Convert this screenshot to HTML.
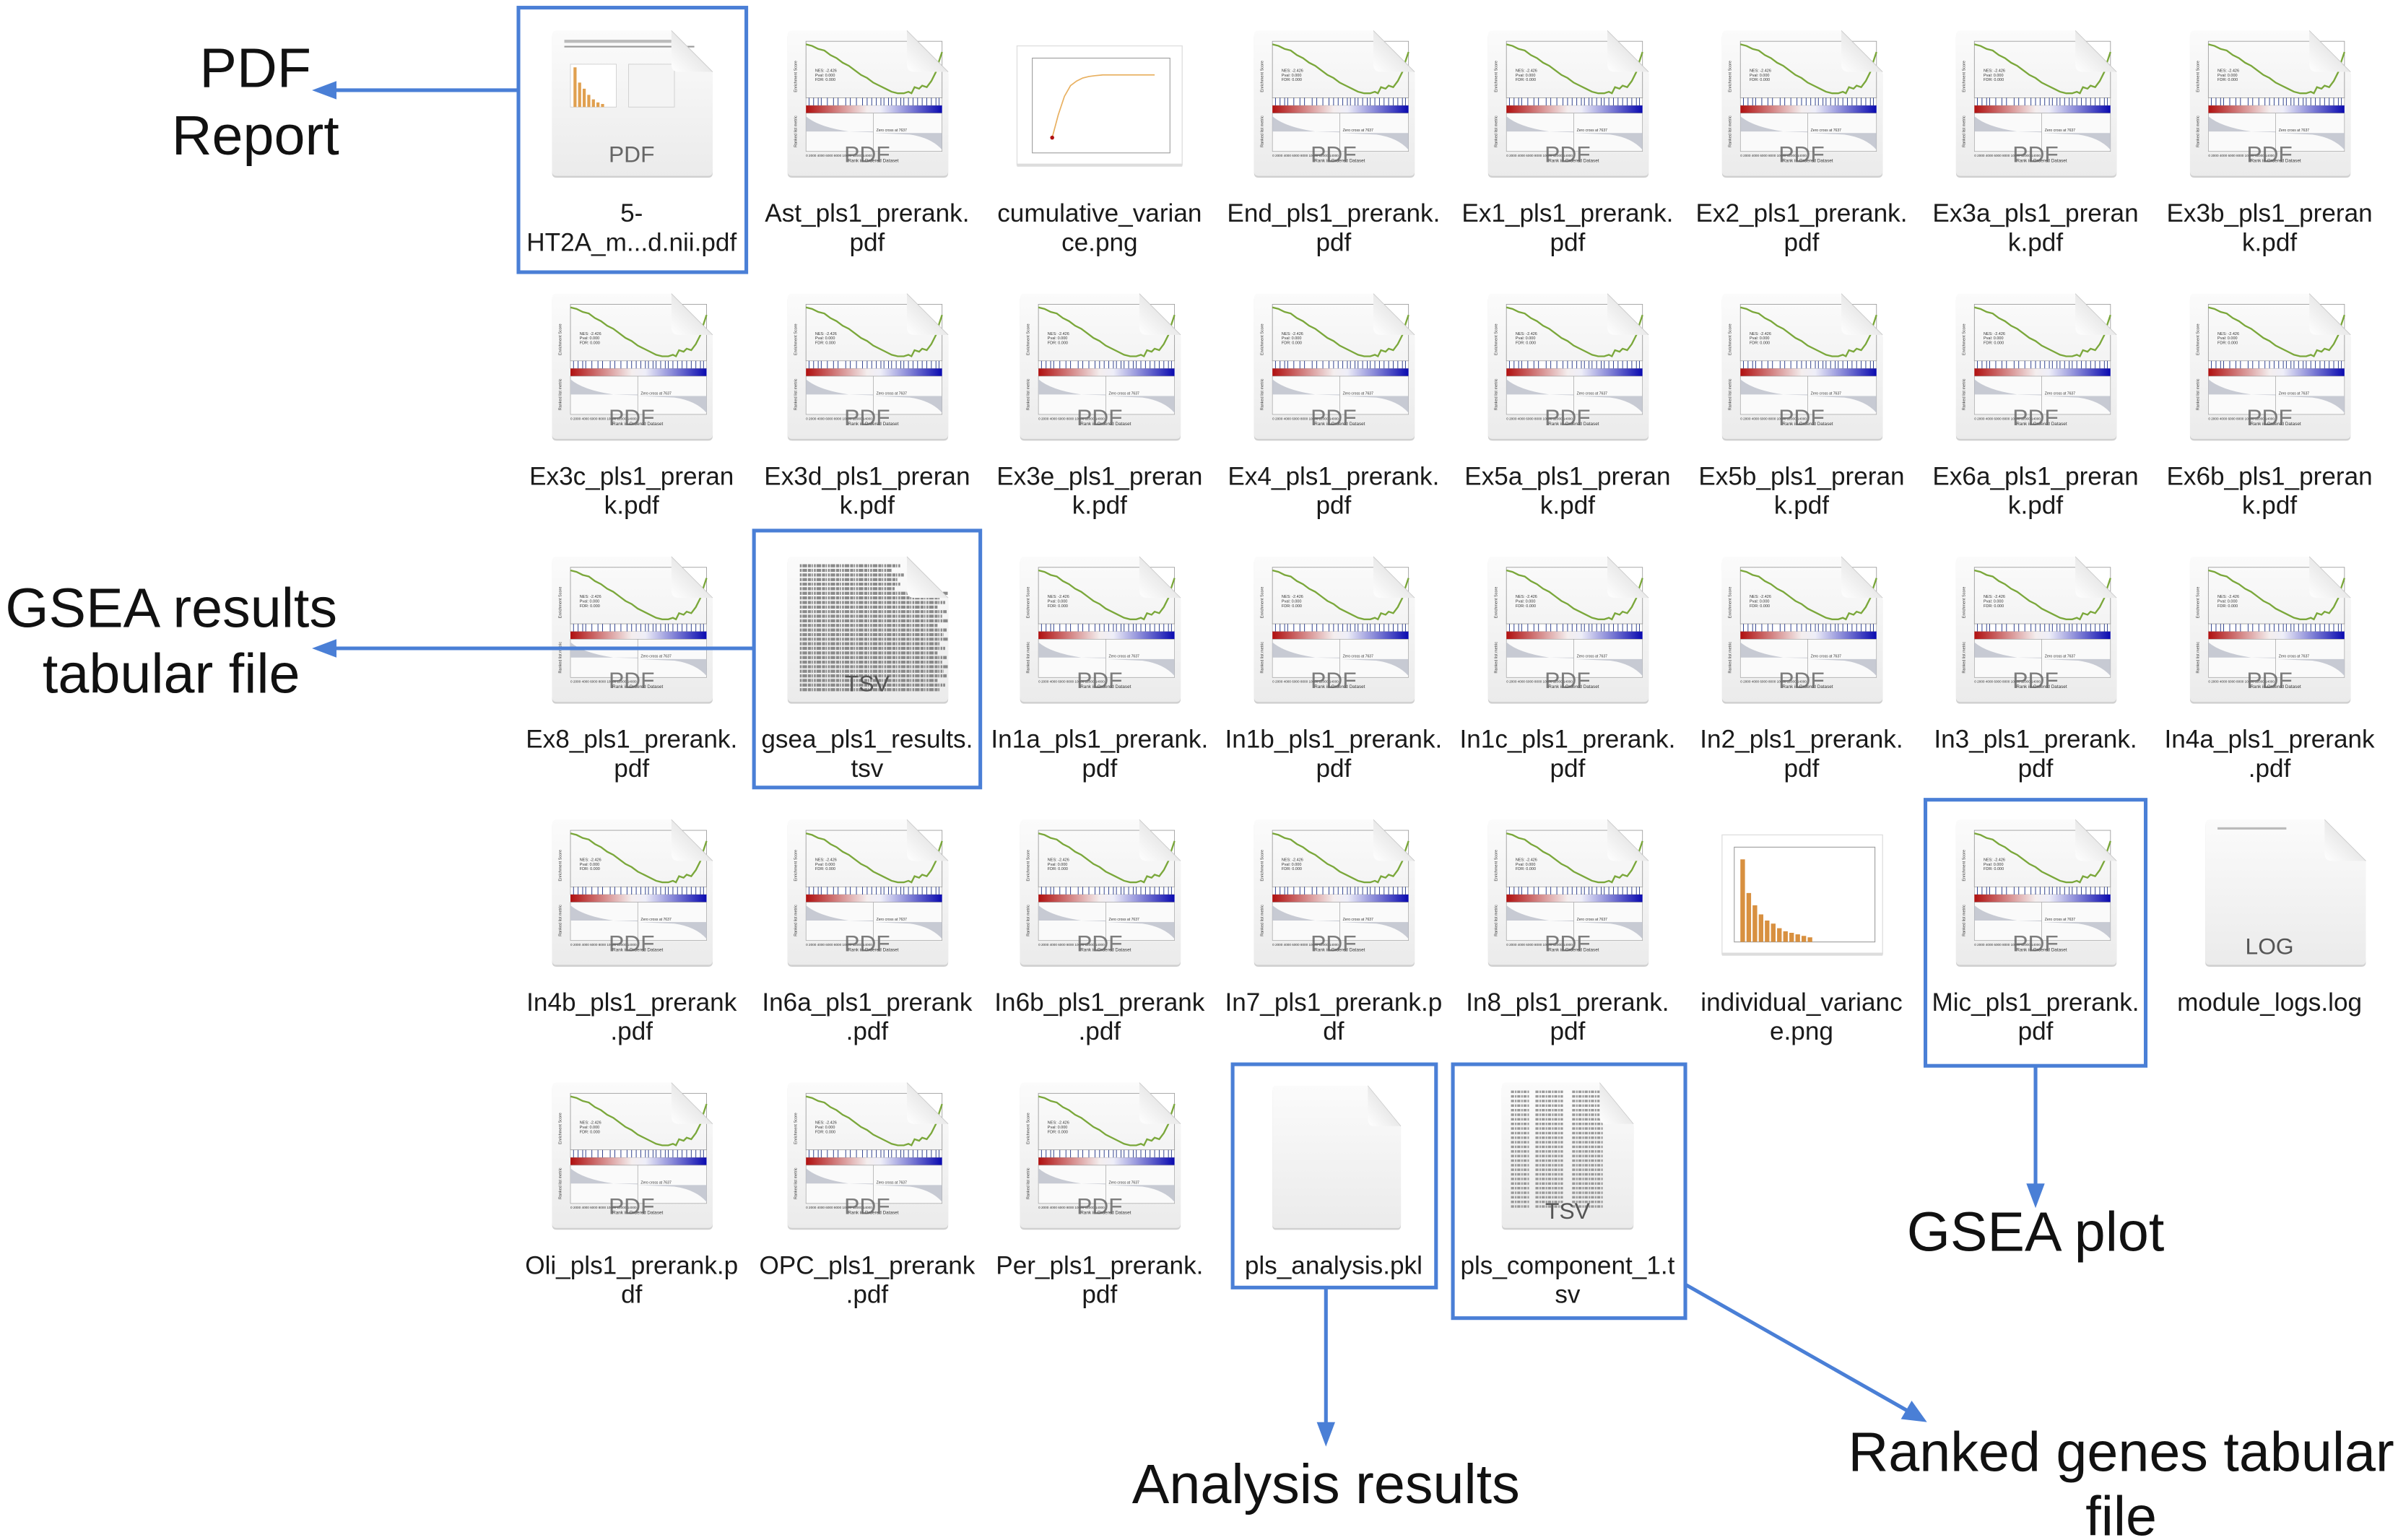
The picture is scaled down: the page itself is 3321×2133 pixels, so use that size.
<!DOCTYPE html>
<html><head><meta charset="utf-8"><style>html,body{margin:0;padding:0;background:#fff}svg{display:block}</style></head>
<body>
<svg xmlns="http://www.w3.org/2000/svg" xmlns:xlink="http://www.w3.org/1999/xlink" width="3321" height="2133" viewBox="0 0 1568 1007.1">
<defs>
<linearGradient id="pg" x1="0" y1="0" x2="0" y2="1"><stop offset="0" stop-color="#fbfbfb"/><stop offset="1" stop-color="#ebebeb"/></linearGradient>
<linearGradient id="fd" x1="0" y1="1" x2="1" y2="0"><stop offset="0" stop-color="#ffffff"/><stop offset="1" stop-color="#d4d4d4"/></linearGradient>
<linearGradient id="rb" x1="0" y1="0" x2="1" y2="0"><stop offset="0" stop-color="#b01010"/><stop offset="0.45" stop-color="#f4eeee"/><stop offset="0.55" stop-color="#eeeef8"/><stop offset="1" stop-color="#0a0ab0"/></linearGradient>
<path id="pagep" d="M3,0 H78 L105,27 V92 Q105,95 102,95 H3 Q0,95 0,92 V3 Q0,0 3,0 Z"/>
<g id="pagebase">
<use href="#pagep" fill="#d0d0d0" transform="translate(0,1.2)"/>
<use href="#pagep" fill="url(#pg)"/>
</g>
<g id="fold">
<path d="M78,0 L105,27 H83 Q78,27 78,22 Z" fill="url(#fd)"/>
<path d="M78,0 L105,27" stroke="#c8c8c8" stroke-width="0.4"/>
</g>
<g id="gseabody">
<rect x="12" y="7" width="89" height="37" fill="none" stroke="#999" stroke-width="0.4"/>
<polyline points="12,9 16,10 20,12 24,13 28,16 32,18 36,21 40,23 44,26 48,29 52,31 56,34 60,36 64,38 68,40 72,41 76,41 79,40 81,41 83,37 86,38 88,36 91,37 94,33 97,27 99,20 101,14" fill="none" stroke="#7aa73a" stroke-width="1.1"/>
<text x="18" y="27" font-size="2.6" font-family="Liberation Sans,sans-serif" fill="#333">NES: -2.426</text>
<text x="18" y="30" font-size="2.6" font-family="Liberation Sans,sans-serif" fill="#333">Pval: 0.000</text>
<text x="18" y="33" font-size="2.6" font-family="Liberation Sans,sans-serif" fill="#333">FDR: 0.000</text>
<rect x="12" y="44" width="89" height="5" fill="#fff" stroke="#999" stroke-width="0.3"/>
<path d="M14,44v5M17,44v5M20,44v5M22,44v5M26,44v5M30,44v5M33,44v5M38,44v5M41,44v5M45,44v5M49,44v5M52,44v5M55,44v5M58,44v5M61,44v5M63,44v5M66,44v5M68,44v5M71,44v5M74,44v5M76,44v5M79,44v5M82,44v5M85,44v5M88,44v5M91,44v5M94,44v5M97,44v5M99,44v5" stroke="#2a3c8a" stroke-width="0.45"/>
<rect x="12" y="49" width="89" height="5" fill="url(#rb)"/>
<rect x="12" y="54" width="89" height="25" fill="#fafafa" stroke="#999" stroke-width="0.3"/>
<path d="M12,56 Q20,63 40,66 L56,66.5 L56,66 L12,66 Z" fill="#c7cad3"/>
<path d="M56,67 L80,68 Q94,70 101,78 L101,67 Z" fill="#c7cad3"/>
<line x1="56" y1="54" x2="56" y2="79" stroke="#999" stroke-width="0.3"/>
<text x="58" y="66" font-size="2.4" font-family="Liberation Sans,sans-serif" fill="#333">Zero cross at 7637</text>
<text x="56" y="86" font-size="3" font-family="Liberation Sans,sans-serif" fill="#333" text-anchor="middle">Rank in Ordered Dataset</text>
<text x="12" y="82.5" font-size="2.2" font-family="Liberation Sans,sans-serif" fill="#333">0    2000    4000    6000    8000   10000   12000   14000</text>
<text x="6" y="30" font-size="2.6" font-family="Liberation Sans,sans-serif" fill="#333" transform="rotate(-90 6 30)" text-anchor="middle">Enrichment Score</text>
<text x="6" y="66" font-size="2.6" font-family="Liberation Sans,sans-serif" fill="#333" transform="rotate(-90 6 66)" text-anchor="middle">Ranked list metric</text>
<text x="52" y="86" font-size="15" font-family="Liberation Sans,sans-serif" fill="#666" fill-opacity="0.85" text-anchor="middle">PDF</text>
</g>
<g id="gsea"><use href="#pagebase"/><use href="#gseabody"/><use href="#fold"/></g>
<g id="txt">
<path d="M8,6h66M8,9h60M8,12h68M8,15h64M8,18h66M8,21h62M8,24h97M8,27h92M8,30h95M8,33h90M8,36h96M8,39h93M8,42h97M8,45h90M8,48h96M8,51h94M8,54h97M8,57h92M8,60h95M8,63h90M8,66h96M8,69h93M8,72h97M8,75h94M8,78h96M8,81h90M8,84h95M8,87h92" stroke="#8a8a8a" stroke-width="2.0" stroke-dasharray="1.2 0.5 3 0.6 2 0.4 0.8 0.7"/>
</g>
</defs>

<g font-family="Liberation Sans, sans-serif">
<!-- Row 1 -->
<g transform="translate(361,20)"><use href="#pagebase"/>
<rect x="8" y="6" width="70" height="2" fill="#bbb"/><rect x="8" y="10" width="85" height="1" fill="#999"/>
<rect x="12" y="22" width="30" height="28" fill="#fff" stroke="#ccc" stroke-width="0.4"/>
<path d="M14,50V24h2v26zM17,50V34h2v16zM20,50V38h2v12zM23,50V42h2v8zM26,50V45h2v5zM29,50V47h2v3zM32,50V48h2v2z" fill="#e0a050"/>
<rect x="50" y="22" width="30" height="28" fill="#f4f4f4" stroke="#ccc" stroke-width="0.4"/>
<text x="52" y="86" font-size="15" fill="#666" text-anchor="middle">PDF</text>
<use href="#fold"/></g>
<use href="#gsea" x="515" y="20"/>
<g transform="translate(665,30)"><rect x="0" y="0" width="108" height="78" fill="#fff" stroke="#ddd" stroke-width="0.6"/><rect x="0" y="77" width="108" height="2" fill="#ddd"/>
<rect x="10" y="8" width="90" height="62" fill="none" stroke="#999" stroke-width="0.5"/>
<polyline points="23,60 27,45 31,33 35,26 39,23 43,21 47,20 51,19.5 56,19 62,19 70,19 80,19 90,19" fill="none" stroke="#e8b060" stroke-width="0.8"/>
<circle cx="23" cy="60" r="1.3" fill="#b01010"/></g>
<use href="#gsea" x="820" y="20"/>
<use href="#gsea" x="973" y="20"/>
<use href="#gsea" x="1126" y="20"/>
<use href="#gsea" x="1279" y="20"/>
<use href="#gsea" x="1432" y="20"/>
<!-- Row 2 -->
<use href="#gsea" x="361" y="192"/><use href="#gsea" x="515" y="192"/><use href="#gsea" x="667" y="192"/><use href="#gsea" x="820" y="192"/>
<use href="#gsea" x="973" y="192"/><use href="#gsea" x="1126" y="192"/><use href="#gsea" x="1279" y="192"/><use href="#gsea" x="1432" y="192"/>
<!-- Row 3 -->
<use href="#gsea" x="361" y="364"/>
<g transform="translate(515,364)"><use href="#pagebase"/><use href="#txt"/><text x="52" y="88" font-size="15" fill="#555" text-anchor="middle">TSV</text><use href="#fold"/></g>
<use href="#gsea" x="667" y="364"/><use href="#gsea" x="820" y="364"/><use href="#gsea" x="973" y="364"/><use href="#gsea" x="1126" y="364"/><use href="#gsea" x="1279" y="364"/><use href="#gsea" x="1432" y="364"/>
<!-- Row 4 -->
<use href="#gsea" x="361" y="536"/><use href="#gsea" x="515" y="536"/><use href="#gsea" x="667" y="536"/><use href="#gsea" x="820" y="536"/><use href="#gsea" x="973" y="536"/>
<g transform="translate(1126,546)"><rect x="0" y="0" width="105" height="78" fill="#fff" stroke="#ddd" stroke-width="0.6"/><rect x="0" y="77" width="105" height="2" fill="#ddd"/>
<rect x="8" y="8" width="92" height="62" fill="none" stroke="#999" stroke-width="0.5"/>
<path d="M12,70V16h3v54zM16,70V38h3v32zM20,70V46h3v24zM24,70V52h3v18zM28,70V56h3v14zM32,70V58h3v12zM36,70V61h3v9zM40,70V63h3v7zM44,70V64h3v6zM48,70V65h3v5zM52,70V66h3v4zM56,70V67h3v3z" fill="#d89040"/></g>
<use href="#gsea" x="1279" y="536"/>
<g transform="translate(1442,536)"><use href="#pagebase"/><rect x="8" y="5" width="45" height="1.5" fill="#bbb"/><text x="42" y="88" font-size="15" fill="#555" text-anchor="middle">LOG</text><use href="#fold"/></g>
<!-- Row 5 -->
<use href="#gsea" x="361" y="708"/><use href="#gsea" x="515" y="708"/><use href="#gsea" x="667" y="708"/>
<g transform="translate(832,710)"><use href="#pagebase" transform="scale(0.8,0.98)"/><use href="#fold" transform="scale(0.8,0.98)"/></g>
<g transform="translate(982,708)"><use href="#pagebase" transform="scale(0.82,1)"/>
<path d="M6,6h12M22,6h18M46,6h20M6,9h12M22,9h18M46,9h20M6,12h12M22,12h18M46,12h20M6,15h12M22,15h18M46,15h20M6,18h12M22,18h18M46,18h20M6,21h12M22,21h18M46,21h20M6,24h12M22,24h18M46,24h20M6,27h12M22,27h18M46,27h20M6,30h12M22,30h18M46,30h20M6,33h12M22,33h18M46,33h20M6,36h12M22,36h18M46,36h20M6,39h12M22,39h18M46,39h20M6,42h12M22,42h18M46,42h20M6,45h12M22,45h18M46,45h20M6,48h12M22,48h18M46,48h20M6,51h12M22,51h18M46,51h20M6,54h12M22,54h18M46,54h20M6,57h12M22,57h18M46,57h20M6,60h12M22,60h18M46,60h20M6,63h12M22,63h18M46,63h20M6,66h12M22,66h18M46,66h20M6,69h12M22,69h18M46,69h20M6,72h12M22,72h18M46,72h20M6,75h12M22,75h18M46,75h20M6,78h12M22,78h18M46,78h20M6,81h12M22,81h18M46,81h20" stroke="#999" stroke-width="1.6" stroke-dasharray="2 0.6 1 0.5"/>
<text x="43" y="89" font-size="15" fill="#555" text-anchor="middle">TSV</text>
<use href="#fold" transform="scale(0.82,1)"/></g>

<!-- Labels -->
<g font-size="16.6" fill="#1a1a1a" text-anchor="middle">
<text x="413" y="145">5-</text><text x="413" y="164">HT2A_m...d.nii.pdf</text>
<text x="567" y="145">Ast_pls1_prerank.</text><text x="567" y="164">pdf</text>
<text x="719" y="145">cumulative_varian</text><text x="719" y="164">ce.png</text>
<text x="872" y="145">End_pls1_prerank.</text><text x="872" y="164">pdf</text>
<text x="1025" y="145">Ex1_pls1_prerank.</text><text x="1025" y="164">pdf</text>
<text x="1178" y="145">Ex2_pls1_prerank.</text><text x="1178" y="164">pdf</text>
<text x="1331" y="145">Ex3a_pls1_preran</text><text x="1331" y="164">k.pdf</text>
<text x="1484" y="145">Ex3b_pls1_preran</text><text x="1484" y="164">k.pdf</text>

<text x="413" y="317">Ex3c_pls1_preran</text><text x="413" y="336">k.pdf</text>
<text x="567" y="317">Ex3d_pls1_preran</text><text x="567" y="336">k.pdf</text>
<text x="719" y="317">Ex3e_pls1_preran</text><text x="719" y="336">k.pdf</text>
<text x="872" y="317">Ex4_pls1_prerank.</text><text x="872" y="336">pdf</text>
<text x="1025" y="317">Ex5a_pls1_preran</text><text x="1025" y="336">k.pdf</text>
<text x="1178" y="317">Ex5b_pls1_preran</text><text x="1178" y="336">k.pdf</text>
<text x="1331" y="317">Ex6a_pls1_preran</text><text x="1331" y="336">k.pdf</text>
<text x="1484" y="317">Ex6b_pls1_preran</text><text x="1484" y="336">k.pdf</text>

<text x="413" y="489">Ex8_pls1_prerank.</text><text x="413" y="508">pdf</text>
<text x="567" y="489">gsea_pls1_results.</text><text x="567" y="508">tsv</text>
<text x="719" y="489">In1a_pls1_prerank.</text><text x="719" y="508">pdf</text>
<text x="872" y="489">In1b_pls1_prerank.</text><text x="872" y="508">pdf</text>
<text x="1025" y="489">In1c_pls1_prerank.</text><text x="1025" y="508">pdf</text>
<text x="1178" y="489">In2_pls1_prerank.</text><text x="1178" y="508">pdf</text>
<text x="1331" y="489">In3_pls1_prerank.</text><text x="1331" y="508">pdf</text>
<text x="1484" y="489">In4a_pls1_prerank</text><text x="1484" y="508">.pdf</text>

<text x="413" y="661">In4b_pls1_prerank</text><text x="413" y="680">.pdf</text>
<text x="567" y="661">In6a_pls1_prerank</text><text x="567" y="680">.pdf</text>
<text x="719" y="661">In6b_pls1_prerank</text><text x="719" y="680">.pdf</text>
<text x="872" y="661">In7_pls1_prerank.p</text><text x="872" y="680">df</text>
<text x="1025" y="661">In8_pls1_prerank.</text><text x="1025" y="680">pdf</text>
<text x="1178" y="661">individual_varianc</text><text x="1178" y="680">e.png</text>
<text x="1331" y="661">Mic_pls1_prerank.</text><text x="1331" y="680">pdf</text>
<text x="1484" y="661">module_logs.log</text>

<text x="413" y="833">Oli_pls1_prerank.p</text><text x="413" y="852">df</text>
<text x="567" y="833">OPC_pls1_prerank</text><text x="567" y="852">.pdf</text>
<text x="719" y="833">Per_pls1_prerank.</text><text x="719" y="852">pdf</text>
<text x="872" y="833">pls_analysis.pkl</text>
<text x="1025" y="833">pls_component_1.t</text><text x="1025" y="852">sv</text>
</g>

<!-- Highlight boxes and arrows -->
<g fill="none" stroke="#4a7fd6" stroke-width="2.4">
<rect x="339" y="5" width="149" height="173"/>
<rect x="493" y="347" width="148" height="168"/>
<rect x="1259" y="523" width="144" height="174"/>
<rect x="806" y="696" width="133" height="146"/>
<rect x="950" y="696" width="152" height="166"/>
<line x1="339" y1="59" x2="218" y2="59"/>
<line x1="493" y1="424" x2="218" y2="424"/>
<line x1="1331" y1="697" x2="1331" y2="776"/>
<line x1="867" y1="842" x2="867" y2="932"/>
<line x1="1102" y1="840" x2="1248" y2="923"/>
</g>
<g fill="#4a7fd6">
<polygon points="204,59 220,53 220,65"/>
<polygon points="204,424 220,418 220,430"/>
<polygon points="1331,790 1325,774 1337,774"/>
<polygon points="867,946 861,930 873,930"/>
<polygon points="1260,930 1243,928 1250,916"/>
</g>

<g font-size="36.5" fill="#111" text-anchor="middle">
<text x="167" y="57">PDF</text><text x="167" y="101">Report</text>
<text x="112" y="410">GSEA results</text><text x="112" y="453">tabular file</text>
<text x="1331" y="818">GSEA plot</text>
<text x="867" y="983">Analysis results</text>
<text x="1387" y="962">Ranked genes tabular</text><text x="1387" y="1004">file</text>
</g>
</g>
</svg>
</body></html>
